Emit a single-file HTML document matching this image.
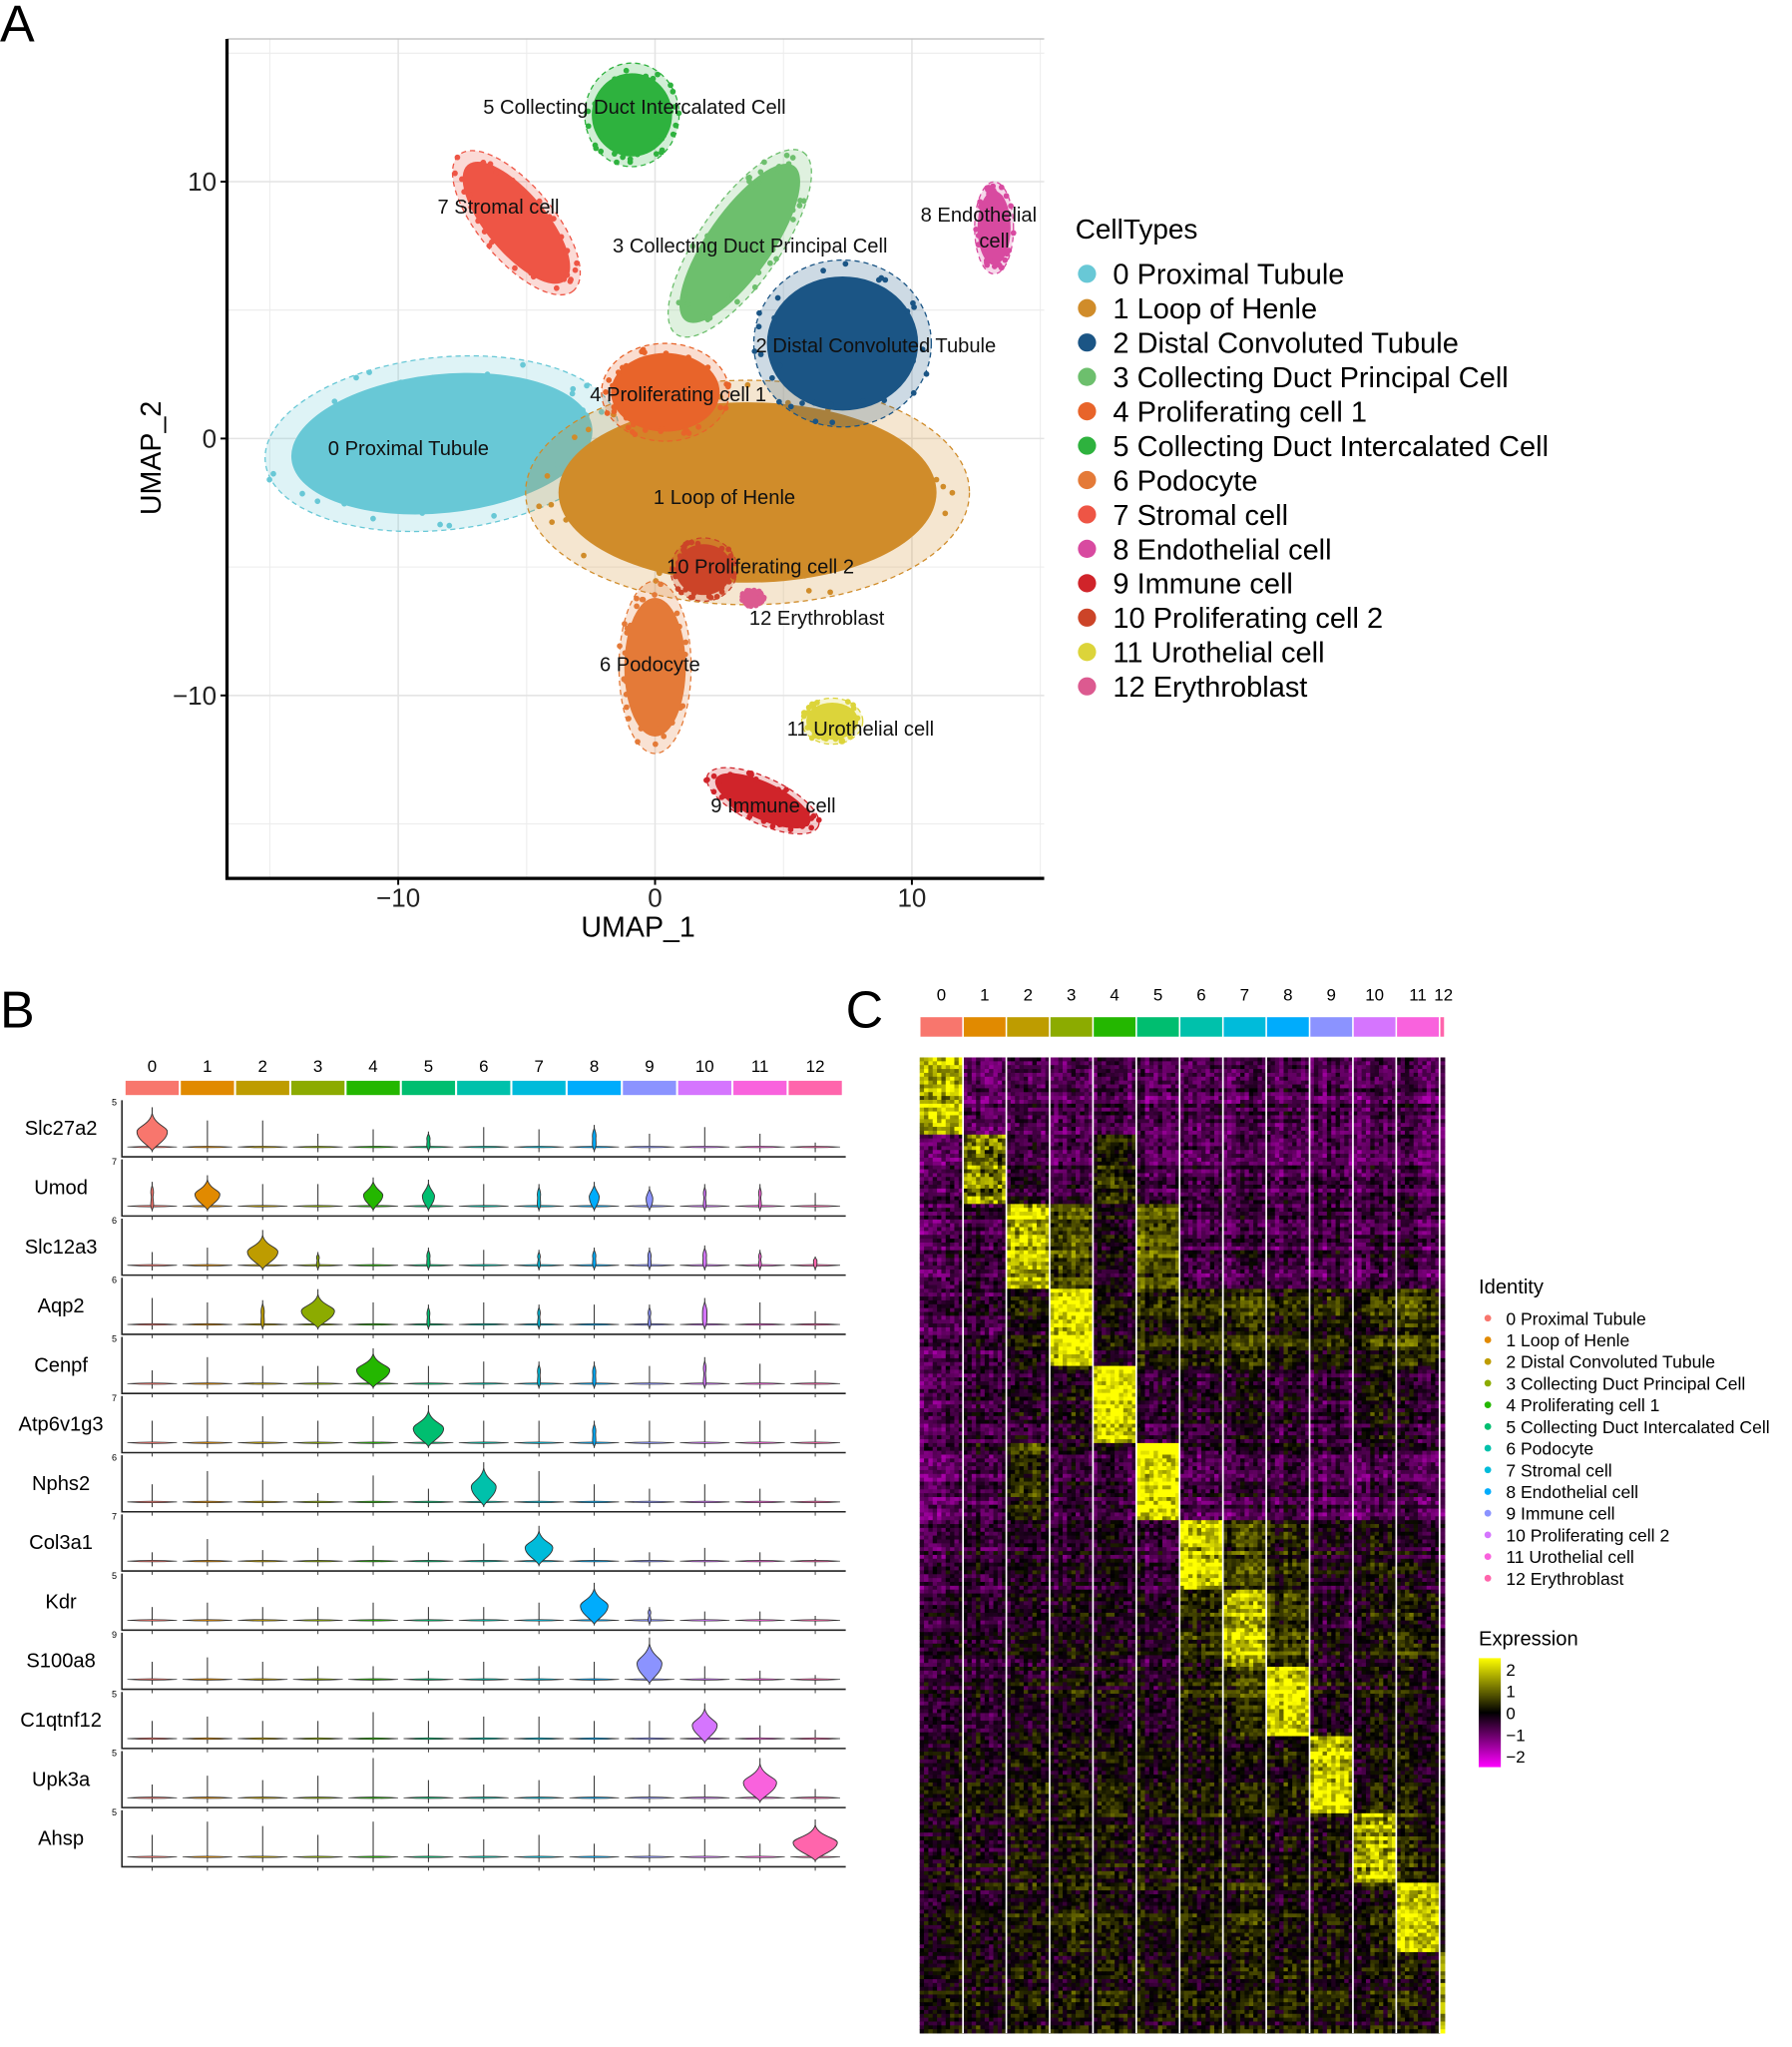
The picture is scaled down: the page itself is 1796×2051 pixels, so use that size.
<!DOCTYPE html>
<html><head><meta charset="utf-8">
<style>
html,body{margin:0;padding:0;background:#fff;}
svg{display:block;font-family:"Liberation Sans",Arial,sans-serif;}
</style></head>
<body>
<svg id="fig" width="1796" height="2051" viewBox="0 0 1381.5 1577.7" preserveAspectRatio="none" xmlns="http://www.w3.org/2000/svg">
<g id="panelA"></g>
<g id="panelB"></g>
<g id="panelC"></g>
</svg>
<script>
// ---------- shared data ----------
const clusterNames = ["0 Proximal Tubule","1 Loop of Henle","2 Distal Convoluted Tubule","3 Collecting Duct Principal Cell","4 Proliferating cell 1","5 Collecting Duct Intercalated Cell","6 Podocyte","7 Stromal cell","8 Endothelial cell","9 Immune cell","10 Proliferating cell 2","11 Urothelial cell","12 Erythroblast"];
const umapColors = ["#68c8d6","#d08c2a","#1b5585","#6dbf6d","#e8642a","#2eb23e","#e47a38","#ee5545","#d84aa0","#d0242a","#cc4428","#dcd43a","#dc5a90"];
const hueColors = ["#F8766D","#E18A00","#BE9C00","#8CAB00","#24B700","#00BE70","#00C1AB","#00BBDA","#00ACFC","#8B93FF","#D575FE","#F962DD","#FF65AC"];
// UMAP cluster shapes (UMAP units)
const clusterCx = [-8.3, 3.6, 7.3, 3.3, 0.4, -0.9, 0.0, -5.4, 13.2, 4.2, 1.9, 6.9, 3.8];
const clusterCy = [-0.2, -2.1, 3.7, 7.6, 1.8, 12.6, -8.9, 8.4, 8.2, -14.1, -5.1, -11.0, -6.2];
const clusterRx = [6.4, 8.0, 3.2, 4.0, 2.3, 1.7, 1.3, 3.2, 0.7, 2.2, 1.2, 1.1, 0.4];
const clusterRy = [3.0, 3.9, 2.9, 1.4, 1.7, 1.8, 3.0, 1.3, 1.6, 0.8, 1.1, 0.8, 0.3];
const clusterRot = [-6, 0, 0, -55, 0, 0, 0, 50, 0, 25, 0, 0, 0];
const labelX = [-9.6, 2.7, 8.6, 3.7, 0.9, -0.8, -0.2, -6.1, 12.6, 4.6, 4.1, 8.0, 6.3];
const labelY = [-0.4, -2.3, 3.6, 7.5, 1.7, 12.9, -8.8, 9.0, 8.7, -14.3, -5.0, -11.3, -7.0];
const xTicks = [-10, 0, 10];
const yTicks = [-10, 0, 10];
// Violin data
const genes = ["Slc27a2","Umod","Slc12a3","Aqp2","Cenpf","Atp6v1g3","Nphs2","Col3a1","Kdr","S100a8","C1qtnf12","Upk3a","Ahsp"];
const geneMax = [5,7,6,6,5,7,6,7,5,9,5,5,5];
// spike height (fraction of row) per gene (row) x cluster (col)
const spikes = [
 [0.9,0.6,0.6,0.3,0.4,0.35,0.45,0.4,0.5,0.3,0.45,0.3,0.1],
 [0.55,0.7,0.5,0.5,0.65,0.6,0.5,0.5,0.55,0.45,0.5,0.5,0.3],
 [0.3,0.4,0.8,0.3,0.4,0.4,0.35,0.35,0.4,0.4,0.45,0.35,0.2],
 [0.6,0.5,0.55,0.8,0.5,0.45,0.5,0.45,0.45,0.45,0.6,0.5,0.3],
 [0.3,0.6,0.4,0.4,0.8,0.4,0.5,0.5,0.5,0.4,0.6,0.45,0.3],
 [0.5,0.6,0.6,0.5,0.6,0.85,0.5,0.5,0.5,0.5,0.5,0.5,0.3],
 [0.4,0.7,0.5,0.2,0.6,0.3,0.9,0.7,0.4,0.3,0.4,0.3,0.1],
 [0.2,0.5,0.25,0.3,0.35,0.2,0.4,0.8,0.3,0.2,0.3,0.2,0.05],
 [0.3,0.4,0.3,0.3,0.4,0.3,0.3,0.4,0.85,0.3,0.2,0.2,0.1],
 [0.4,0.5,0.4,0.3,0.3,0.2,0.4,0.3,0.4,0.95,0.3,0.2,0.1],
 [0.4,0.5,0.4,0.4,0.6,0.4,0.5,0.5,0.4,0.4,0.8,0.3,0.2],
 [0.3,0.5,0.4,0.5,0.9,0.4,0.3,0.4,0.5,0.3,0.3,0.9,0.2],
 [0.5,0.8,0.7,0.5,0.8,0.3,0.4,0.5,0.3,0.3,0.4,0.3,0.85]];
// bulge width (fraction of column width) per gene, cluster
const bulge = [
 [0.55,0,0,0,0,0.05,0,0,0.06,0,0,0,0],
 [0.03,0.45,0,0,0.35,0.22,0,0.05,0.18,0.12,0.03,0.03,0],
 [0,0,0.55,0.03,0,0.05,0,0.03,0.05,0.05,0.06,0.03,0.06],
 [0,0,0.05,0.6,0,0.04,0,0.03,0,0.03,0.08,0,0],
 [0,0,0,0,0.6,0,0,0.04,0.05,0,0.03,0,0],
 [0,0,0,0,0,0.55,0,0,0.05,0,0,0,0],
 [0,0,0,0,0,0,0.45,0,0,0,0,0,0],
 [0,0,0,0,0,0,0,0.5,0,0,0,0,0],
 [0,0,0,0,0,0,0,0,0.5,0.03,0,0,0],
 [0,0,0,0,0,0,0,0,0,0.45,0,0,0],
 [0,0,0,0,0,0,0,0,0,0,0.45,0,0],
 [0,0,0,0,0,0,0,0,0,0,0,0.6,0],
 [0,0,0,0,0,0,0,0,0,0,0,0,0.8]];
// Heatmap data
const cellCounts = [33,33,33,33,33,33,33,33,33,33,33,33,4];
const geneCounts = [20,18,22,20,20,20,18,20,18,20,18,18,21];
const blockMean = [
 [1.6,-0.6,-0.6,-0.6,-0.6,-0.6,-0.6,-0.6,-0.5,-0.6,-0.6,-0.6,-0.6],
 [-0.5,1.2,-0.3,-0.4,0.3,-0.5,-0.5,-0.5,-0.5,-0.5,-0.5,-0.5,-0.5],
 [-0.5,-0.3,1.4,0.6,-0.2,0.7,-0.5,-0.5,-0.5,-0.5,-0.5,-0.5,-0.5],
 [-0.5,-0.3,-0.1,1.8,-0.2,0.2,0.2,0.3,0.2,0.1,0.2,0.4,-0.3],
 [-0.5,-0.3,-0.3,-0.1,1.8,-0.3,-0.3,-0.2,-0.3,-0.4,0.0,-0.3,-0.3],
 [-0.6,-0.3,0.3,-0.3,-0.4,2.0,-0.5,-0.5,-0.3,-0.5,-0.5,-0.5,-0.5],
 [-0.4,-0.3,-0.3,-0.3,-0.3,-0.4,1.7,0.5,0.2,-0.2,0.0,-0.2,-0.3],
 [-0.2,-0.2,-0.2,0.0,-0.2,-0.2,0.3,1.5,0.5,-0.2,0.0,0.2,-0.3],
 [-0.2,-0.2,-0.2,0.0,-0.2,-0.2,0.2,0.3,1.8,-0.1,0.0,-0.1,-0.3],
 [0,0,0,0,0,0,0,0,0.1,1.6,0,0,0],
 [0,0,0,0.15,0,0,0.1,0,0,0,1.4,0.2,0],
 [0,0,0,0.2,0,0,0.15,0.2,0,0,0.1,1.6,0],
 [0,0,0,0,0,0,0,0,0.1,0,0,0,1.3]];
const exprTicks = [2,1,0,-1,-2];
const exprTickLabels = ["2","1","0","\u22121","\u22122"];

const NS="http://www.w3.org/2000/svg";
function mk(tag, attrs, parent, text){
  const e=document.createElementNS(NS,tag);
  for(const k in attrs) e.setAttribute(k,attrs[k]);
  if(text!==undefined) e.textContent=text;
  parent.appendChild(e); return e;
}
function hash(a,b){let h=(a*374761393+b*668265263)^0x5bd1e995;h=(h^(h>>>13))*1274126177;h=h^(h>>>16);return ((h>>>0)%10000)/10000;}

// ---------- Panel A ----------
(function(){
  const g=document.getElementById('panelA');
  const sx=v=>505+v*19.8, sy=v=>338-v*19.8;
  const t=mk('text',{x:0,y:32,'font-size':40},g,'A');
   
  [-15,-5,5,15].forEach(v=>{const l=mk('line',{x1:sx(v),x2:sx(v),y1:30,y2:677,stroke:'#ececec','stroke-width':0.8},g);
     });
  [-15,-5,5,15].forEach(v=>{const l=mk('line',{x1:175,x2:805,y1:sy(v),y2:sy(v),stroke:'#ececec','stroke-width':0.8},g);
     });
  xTicks.forEach(v=>{const l=mk('line',{x1:sx(v),x2:sx(v),y1:30,y2:677,stroke:'#e4e4e4','stroke-width':1.2},g);
     });
  yTicks.forEach(v=>{const l=mk('line',{x1:175,x2:805,y1:sy(v),y2:sy(v),stroke:'#e4e4e4','stroke-width':1.2},g);
     });
  const top=mk('line',{x1:175,x2:805,y1:30,y2:30,stroke:'#bbb','stroke-width':1},g);
   
  clusterCx.forEach((cx,i)=>{
    const x=sx(cx), y=sy(clusterCy[i]), rx=clusterRx[i]*19.8, ry=clusterRy[i]*19.8;
    const grp=mk('g',{transform:`rotate(${clusterRot[i]} ${x} ${y})`},g);
     
    const e=mk('ellipse',{cx:x,cy:y,rx:rx*1.08,ry:ry*1.12,fill:umapColors[i],'fill-opacity':0.22,stroke:umapColors[i],'stroke-dasharray':'4 3','stroke-width':1},grp);
     
    const b=mk('ellipse',{cx:x,cy:y,rx:rx*0.92,ry:ry*0.9,fill:umapColors[i]},grp);
     
    for(let k=0;k<36;k++){
      const a=hash(i,k)*Math.PI*2, r=0.8+0.3*hash(k,i);
      const d=mk('circle',{cx:x+Math.cos(a)*rx*r,cy:y+Math.sin(a)*ry*r,r:2.2,fill:umapColors[i]},grp);
       
    }
  });
  clusterNames.forEach((n,i)=>{
    let txt=n; if(i===8){txt='8 Endothelial';}
    const lt=mk('text',{x:sx(labelX[i]),y:sy(labelY[i])+5,'font-size':15.5,'text-anchor':'middle',fill:'#111'},g,txt);
     
    if(i===8){const l2=mk('text',{x:sx(labelX[i])+12,y:sy(labelY[i])+25,'font-size':15.5,'text-anchor':'middle',fill:'#111'},g,'cell');
       }
  });
  const ax=mk('path',{d:'M175,30 V677 H805',fill:'none',stroke:'#000','stroke-width':2.5},g);
   
  xTicks.forEach(v=>{
    const tl=mk('line',{x1:sx(v),x2:sx(v),y1:677,y2:682,stroke:'#000','stroke-width':1.5},g);
     
    const tt=mk('text',{x:sx(v),y:699,'font-size':20,'text-anchor':'middle',fill:'#222'},g,v<0?'\u2212'+(-v):String(v));
     
  });
  yTicks.forEach(v=>{
    const tl=mk('line',{x1:170,x2:175,y1:sy(v),y2:sy(v),stroke:'#000','stroke-width':1.5},g);
     
    const tt=mk('text',{x:167,y:sy(v)+7,'font-size':20,'text-anchor':'end',fill:'#222'},g,v<0?'\u2212'+(-v):String(v));
     
  });
  const xt=mk('text',{x:492,y:722,'font-size':22,'text-anchor':'middle'},g,'UMAP_1');
   
  const yt=mk('text',{x:124,y:353,'font-size':22,'text-anchor':'middle',transform:'rotate(-90 124 353)'},g,'UMAP_2');
   
  const lg=mk('g',{},g);  
  const lt=mk('text',{x:829,y:184,'font-size':21.5},lg,'CellTypes');
   
  clusterNames.forEach((n,i)=>{
    const y=211+i*26.5;
    const c=mk('circle',{cx:838,cy:y,r:7,fill:umapColors[i]},lg);
     
    const tx=mk('text',{x:858,y:y+8,'font-size':22.3},lg,n);
     
  });
})();

// ---------- Panel B ----------
(function(){
  const g=document.getElementById('panelB');
  const t=mk('text',{x:0,y:792,'font-size':40},g,'B');
   
  const x0=96, cw=42.6, rowTop=r=>848+r*45.6, rh=43.6;
  const cx=j=>x0+cw*(j+0.5);
  for(let j=0;j<13;j++){
    const n=mk('text',{x:cx(j),y:826,'font-size':13,'text-anchor':'middle'},g,String(j));
     
    const r=mk('rect',{x:x0+cw*j+0.8,y:833,width:cw-1.6,height:11,fill:hueColors[j]},g);
     
  }
  genes.forEach((gn,i)=>{
    const top=rowTop(i), base=top+36;
    const lab=mk('text',{x:47,y:top+rh/2+5,'font-size':15.5,'text-anchor':'middle'},g,gn);
     
    const mt=mk('text',{x:90,y:top+4,'font-size':7,'text-anchor':'end'},g,String(geneMax[i]));
     
    const ax=mk('path',{d:`M94,${top} V${top+rh} H652`,fill:'none',stroke:'#222','stroke-width':1.2},g);
     
    for(let j=0;j<13;j++){
      const x=cx(j), sh=spikes[i][j]*34, bw=bulge[i][j]*cw/2;
      const sp=mk('line',{x1:x,x2:x,y1:base-sh,y2:base+4,stroke:'#333','stroke-width':0.8},g);
       
      const fl=mk('path',{d:`M${x-cw*0.45},${base} Q${x},${base-1.2} ${x+cw*0.45},${base} Q${x},${base+1.2} ${x-cw*0.45},${base}Z`,fill:hueColors[j],stroke:'#333','stroke-width':0.5},g);
       
      if(bw>0){
        const h=sh*0.85, mid=base-h*0.45;
        const d=`M${x},${base-h} C${x+2},${mid-h*0.2} ${x+bw},${mid-h*0.15} ${x+bw},${mid} C${x+bw},${mid+h*0.25} ${x+2},${base-1} ${x},${base+3} C${x-2},${base-1} ${x-bw},${mid+h*0.25} ${x-bw},${mid} C${x-bw},${mid-h*0.15} ${x-2},${mid-h*0.2} ${x},${base-h}Z`;
        const v=mk('path',{d:d,fill:hueColors[j],stroke:'#333','stroke-width':0.7},g);
         
      }
      const tk=mk('line',{x1:x,x2:x,y1:top+rh,y2:top+rh+3,stroke:'#333','stroke-width':0.7},g);
       
    }
  });
})();

// ---------- Panel C ----------
(function(){
  const g=document.getElementById('panelC');
  const t=mk('text',{x:652,y:792,'font-size':40},g,'C');
   
  const hx=709, hy=815, hh=752, unit=33.4/33;
  const totalGenes=geneCounts.reduce((a,b)=>a+b,0), gh=hh/totalGenes;
  function col(v){v=Math.max(-2,Math.min(2,v));
    if(v>=0){const k=Math.round(255*v/2);return `rgb(${k},${k},0)`;}
    const k=Math.round(255*(-v)/2);return `rgb(${k},0,${k})`;}
  const colStart=[]; let acc=hx;
  cellCounts.forEach(c=>{colStart.push(acc); acc+=c*unit;});
  cellCounts.forEach((c,j)=>{
    const x=colStart[j], w=c*unit;
    const lab=mk('text',{x:x+w/2+(j===12?1:0),y:771,'font-size':13,'text-anchor':'middle'},g,String(j));
     
    const r=mk('rect',{x:x+0.6,y:784,width:Math.max(w-1.2,2),height:15,fill:hueColors[j]},g);
     
  });
  const hm=mk('g',{},g);  
  let row=0;
  geneCounts.forEach((n,b)=>{
    for(let k=0;k<n;k++,row++){
      const y=hy+row*gh;
      const rowOff=(hash(row,7)-0.5)*1.0;
      cellCounts.forEach((c,j)=>{
        const segs=j===12?1:10, sw=c*unit/segs, m=blockMean[b][j];
        for(let s=0;s<segs;s++){
          const colOff=(hash(s*13+j,3)-0.5)*0.5;
          const v=m+rowOff*(m>1?0.8:0.6)+colOff+(hash(row*31+s,j)-0.5)*(m>1?1.4:0.8);
          const r=mk('rect',{x:colStart[j]+s*sw,y:y,width:sw+0.3,height:gh+0.3,fill:col(v)},hm);
           
        }
      });
    }
  });
  colStart.slice(1).forEach(x=>{const l=mk('line',{x1:x,x2:x,y1:hy,y2:hy+hh,stroke:'#fff','stroke-width':1.3},g);
     });
  const lg=mk('g',{},g);  
  const it=mk('text',{x:1140,y:997,'font-size':15.5},lg,'Identity');
   
  clusterNames.forEach((n,i)=>{
    const y=1016+i*16.7;
    const c=mk('circle',{cx:1147,cy:y,r:2.6,fill:hueColors[i]},lg);
     
    const tx=mk('text',{x:1161,y:y+5,'font-size':13.5},lg,n);
     
  });
  const et=mk('text',{x:1140,y:1268,'font-size':15.5},g,'Expression');
   
  const defs=mk('defs',{},g);
  const lgd=mk('linearGradient',{id:'exg',x1:0,y1:0,x2:0,y2:1},defs);
  mk('stop',{offset:'0','stop-color':'#ffff00'},lgd);
  mk('stop',{offset:'0.5','stop-color':'#000000'},lgd);
  mk('stop',{offset:'1','stop-color':'#ff00ff'},lgd);
  const bar=mk('rect',{x:1140,y:1278,width:17,height:84,fill:'url(#exg)'},g);
   
  exprTicks.forEach((v,i)=>{
    const y=1320-v*16.8;
    const tt=mk('text',{x:1161,y:y+5,'font-size':13},g,exprTickLabels[i]);
     
  });
})();
</script>
</body></html>
